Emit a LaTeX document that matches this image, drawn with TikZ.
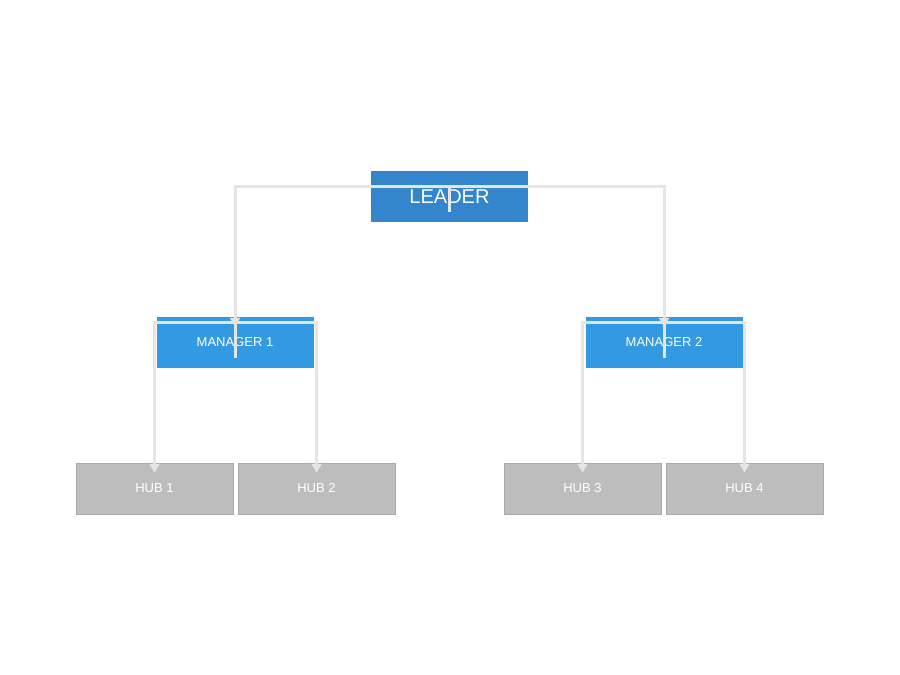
\documentclass[tikz,border=0pt]{standalone}
\usepackage{fontspec}
\setmainfont{Liberation Sans}
\usetikzlibrary{arrows.meta}
\definecolor{lead}{HTML}{3385CC}
\definecolor{mgr}{HTML}{3399E0}
\definecolor{hub}{HTML}{BDBDBD}
\definecolor{conn}{HTML}{E5E5E5}
\begin{document}
\begin{tikzpicture}[x=1pt,y=-1pt,
  box/.style={minimum width=157pt,minimum height=51pt,inner sep=0pt,text=white,font=\fontsize{13}{15}\selectfont},
  lbox/.style={box,fill=lead,font=\fontsize{20}{24}\selectfont},
  mbox/.style={box,fill=mgr},
  hbox/.style={box,fill=hub,draw=hub!90!black,line width=0.5pt},
  link/.style={draw=conn,line width=3pt,-{Triangle[length=9pt,width=10pt]}}]
\useasboundingbox[fill=white] (0,0) rectangle (900,675);
\node[lbox] (L) at (449.5,196.5) {LEADER};
\node[mbox] (M1) at (235,342.5) {MANAGER 1};
\node[mbox] (M2) at (664,342.5) {MANAGER 2};
\node[hbox] (H1) at (154.5,488.5) {HUB 1};
\node[hbox] (H2) at (316.5,488.5) {HUB 2};
\node[hbox] (H3) at (582.5,488.5) {HUB 3};
\node[hbox] (H4) at (744.5,488.5) {HUB 4};
\coordinate (j0) at ([yshift=36pt]L.south);
\coordinate (j1) at ([yshift=46pt]M1.south);
\coordinate (j2) at ([yshift=46pt]M2.south);
\draw[conn,line width=3pt] ([yshift=10pt]L.south) -- (j0);
\draw[link] (j0) -| ([yshift=-10pt]M1.north);
\draw[link] (j0) -| ([yshift=-10pt]M2.north);
\draw[conn,line width=3pt] ([yshift=10pt]M1.south) -- (j1);
\draw[link] (j1) -| ([yshift=-10pt]H1.north);
\draw[link] (j1) -| ([yshift=-10pt]H2.north);
\draw[conn,line width=3pt] ([yshift=10pt]M2.south) -- (j2);
\draw[link] (j2) -| ([yshift=-10pt]H3.north);
\draw[link] (j2) -| ([yshift=-10pt]H4.north);
\end{tikzpicture}
\end{document}
